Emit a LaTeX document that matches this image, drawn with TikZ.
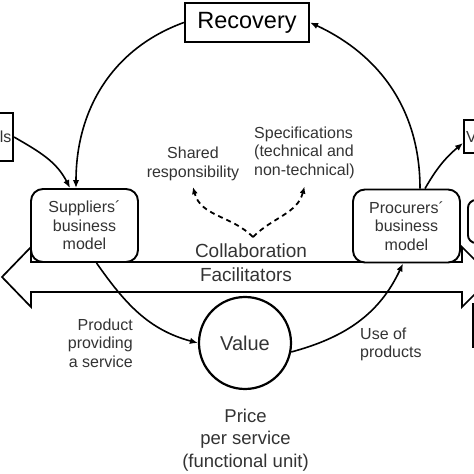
\documentclass[tikz,border=0pt]{standalone}
\usepackage{fontspec}
\setmainfont{Liberation Sans}
\usetikzlibrary{arrows.meta}
\begin{document}
\begin{tikzpicture}[x=1pt,y=1pt,
  every node/.style={text=black!80},
  box/.style={draw=black, line width=2.2pt, fill=white, inner sep=0pt},
  bm/.style={draw=black, line width=1.9pt, fill=white, rounded corners=12pt, minimum width=107pt, minimum height=73pt, align=center, font=\fontsize{16}{18.5}\selectfont, inner sep=0pt},
  conn/.style={line width=1.6pt, -{Latex[length=8pt,width=6.5pt]}},
  dconn/.style={line width=1.8pt, dash pattern=on 5pt off 4pt, -{Latex[length=7pt,width=6pt]}},
  lbl/.style={font=\fontsize{16}{18.5}\selectfont, inner sep=0pt},
  big/.style={font=\fontsize{19}{22}\selectfont, inner sep=0pt}]
\useasboundingbox (0,0) rectangle (474,474);
% large double arrow (collaboration / facilitators)
\draw[line width=1.7pt, fill=white] (2,197) -- (31,227) -- (31,212) -- (462,212) -- (462,227) -- (492,197) -- (462,167) -- (462,182) -- (31,182) -- (31,167) -- cycle;
% boxes
\node[box, minimum width=124pt, minimum height=39pt, font=\fontsize{23.5}{26}\selectfont, text=black] (rec) at (247,451.5) {Recovery};
\node[box, minimum height=48pt, text width=62pt, align=right, inner xsep=1.5pt, anchor=east, font=\fontsize{16}{18.5}\selectfont] (mat) at (14,337) {\raisebox{-8pt}{ls}};
\node[box, minimum height=33pt, text width=30pt, align=left, inner xsep=2pt, anchor=west, font=\fontsize{16}{18.5}\selectfont] (vb) at (463,337.5) {V};
\node[draw=black, line width=1.9pt, fill=white, rounded corners=8pt, minimum width=40pt, minimum height=43pt, anchor=west] (rb) at (467,252.5) {};
\node[draw=black, line width=3pt, fill=white, minimum width=40pt, minimum height=42pt, anchor=west] (tb) at (472,148) {};
\node[bm] (sup) at (84.5,248.5) {Suppliers´\\business\\model};
\node[bm] (pro) at (406.5,248) {Procurers´\\business\\model};
\node[draw=black, circle, line width=2.2pt, minimum size=92pt, fill=white, font=\fontsize{20}{24}\selectfont, inner sep=0pt] (val) at (245,131) {Value};
% labels
\node[big, anchor=base] (col) at (251,216) {Collaboration};
\node[big, anchor=base] (fac) at (246,192) {Facilitators};
\node[lbl, align=center, anchor=north, font=\fontsize{16}{19.5}\selectfont] (shr) at (193,327.7) {Shared\\responsibility};
\node[lbl, align=left, anchor=north west] (spc) at (254,347.7) {Specifications\\(technical and\\non-technical)};
\node[lbl, align=right, anchor=north east] (prd) at (133,155.7) {Product\\providing\\a service};
\node[lbl, align=left, anchor=north west] (use) at (360,146.7) {Use of\\products};
\node[lbl, align=center, anchor=north, font=\fontsize{18.5}{22.5}\selectfont] (prc) at (245.5,65.5) {Price\\per service\\(functional unit)};
\coordinate (ds) at (253,237);
% connectors
\draw[conn] (rec.west) to[out=200,in=90] ([xshift=-8.5pt]sup.north);
\draw[conn] (mat.east) to[out=-30,in=117] ([xshift=-14.5pt]sup.north);
\draw[conn] ([xshift=13.5pt]pro.north) to[out=90,in=-25] (rec.east);
\draw[conn] ([xshift=18.5pt]pro.north) to[out=60,in=-140] ([yshift=-6.5pt]vb.west);
\draw[conn] ([xshift=12pt]sup.south) to[out=-55,in=165] (val.west);
\draw[conn] (val.-11) to[out=15,in=-115] ([xshift=-3.5pt]pro.south);
\draw[dconn] (ds) to[out=135,in=-75] ([yshift=-6pt]shr.south);
\draw[dconn] (ds) to[out=45,in=-105] ([yshift=-8pt]spc.south);
\end{tikzpicture}
\end{document}
